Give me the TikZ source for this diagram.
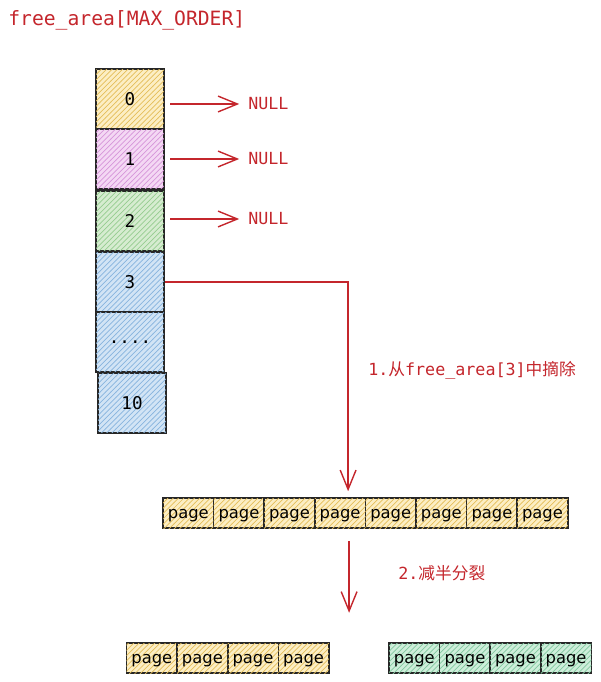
\documentclass[tikz,border=0pt]{standalone}
\usepackage{fontspec}
\setmainfont{DejaVu Sans}
\setmonofont{DejaVu Sans Mono}
\newfontfamily\cjk{Noto Sans CJK SC}
\usepackage{xcolor}
\usetikzlibrary{arrows.meta, positioning, patterns}

\definecolor{redink}{RGB}{196,38,44}
\definecolor{yfill}{RGB}{252,238,196}
\definecolor{yline}{RGB}{228,190,90}
\definecolor{pfill}{RGB}{244,216,244}
\definecolor{pline}{RGB}{214,150,218}
\definecolor{gfill}{RGB}{214,236,208}
\definecolor{gline}{RGB}{150,205,145}
\definecolor{bfill}{RGB}{210,228,245}
\definecolor{bline}{RGB}{135,180,222}
\definecolor{tfill}{RGB}{206,238,218}
\definecolor{tline}{RGB}{130,200,160}

\begin{document}
\begin{tikzpicture}[x=0.02cm, y=-0.02cm,
    cell/.style={draw=black!85, line width=0.9pt, minimum width=1.36cm, minimum height=1.2cm,
        font=\ttfamily\fontsize{10}{12}\selectfont},
    pagecell/.style={draw=black!85, line width=0.9pt, minimum width=1.012cm, minimum height=0.6cm,
        inner sep=0pt, text height=1.1ex, text depth=0pt, font=\fontsize{9.3}{11}\selectfont},
    hatch/.style 2 args={fill=#1, postaction={pattern=north east lines, pattern color=#2}},
    redline/.style={draw=redink, line width=0.8pt},
    redarrow/.style={redline, -{Straight Barb[length=11pt, width=9pt]}},
    redtext/.style={text=redink, inner sep=0pt, anchor=west, font=\ttfamily\fontsize{9.5}{11}\selectfont}]
    \useasboundingbox (0,0) rectangle (600,682);

    % Title
    \node[redtext, font=\ttfamily\fontsize{11.2}{13}\selectfont] (title) at (8,20) {free\_area[MAX\_ORDER]};

    % free_area column
    \node[cell, hatch={yfill}{yline}] (b0) at (130,99) {0};
    \node[cell, hatch={pfill}{pline}] (b1) at (130,159) {1};
    \node[cell, hatch={gfill}{gline}] (b2) at (130,221) {2};
    \node[cell, hatch={bfill}{bline}] (b3) at (130,282) {3};
    \node[cell, hatch={bfill}{bline}] (b4) at (130,342) {....};
    \node[cell, hatch={bfill}{bline}] (b10) at (132,403) {10};

    % Empty lists
    \node[redtext] (n0) at (248,104) {NULL};
    \node[redtext] (n1) at (248,159) {NULL};
    \node[redtext] (n2) at (248,219) {NULL};
    \draw[redarrow, shorten <=3pt, shorten >=5pt] (b0.east |- n0.west) -- (n0.west);
    \draw[redarrow, shorten <=3pt, shorten >=5pt] (b1.east |- n1.west) -- (n1.west);
    \draw[redarrow, shorten <=3pt, shorten >=5pt] (b2.east |- n2.west) -- (n2.west);

    % Block of order 3
    \foreach \i in {1,...,8}
        \node[pagecell, hatch={yfill}{yline}] (t\i) at ({163+50.6*(\i-0.5)},513) {page};

    \coordinate (drop) at ([xshift=0.16cm, yshift=0.12cm]t4.north);
    \draw[redarrow] (b3.east) -| (drop);
    \node[redtext] (step1) at (368,370) {1.{\cjk 从}free\_area[3]{\cjk 中摘除}};

    % Split in half
    \coordinate (s0) at ([xshift=0.18cm, yshift=-0.24cm]t4.south);
    \coordinate (s1) at ([yshift=-1.44cm]s0);
    \draw[redarrow] (s0) -- (s1);
    \node[redtext] (step2) at (398,573) {2.{\cjk 减半分裂}};

    \foreach \i in {1,...,4}
        \node[pagecell, hatch={yfill}{yline}] (l\i) at ({126.5+50.6*(\i-0.5)},658) {page};
    \foreach \i in {1,...,4}
        \node[pagecell, hatch={tfill}{tline}] (r\i) at ({389+50.6*(\i-0.5)},658) {page};
\end{tikzpicture}
\end{document}
